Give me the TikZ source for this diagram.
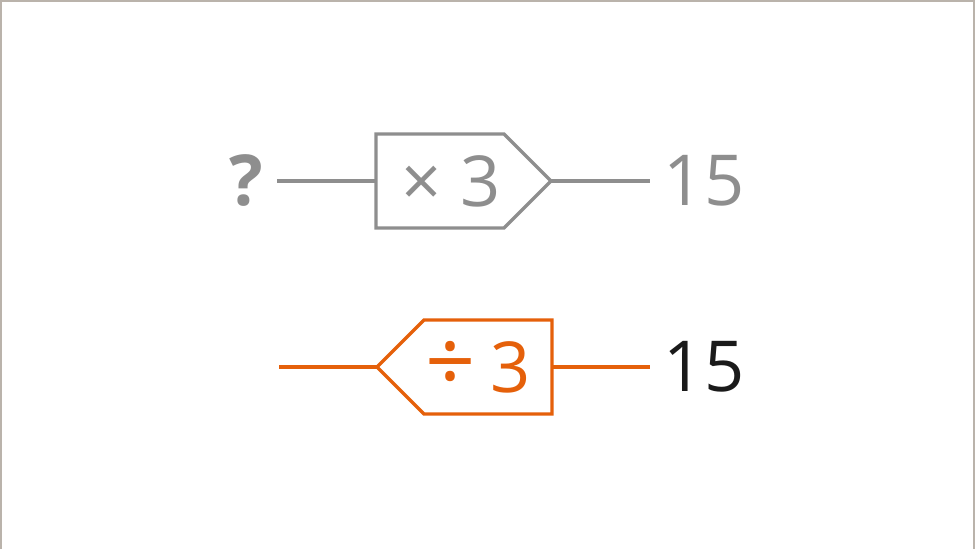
\documentclass[tikz,border=0pt]{standalone}
\usepackage{fontspec}
\setmainfont{Open Sans}
\usetikzlibrary{shapes.symbols,positioning}
\definecolor{opgrey}{HTML}{8E8E8E}
\definecolor{oporange}{HTML}{E5600A}
\definecolor{opblack}{HTML}{1A1A1A}
\definecolor{framegrey}{HTML}{BAB3AB}
\tikzset{
    numtext/.style={inner sep=0.27cm,font=\fontsize{40}{40}\selectfont},
    opbox/.style={shape=signal,signal pointer angle=90,draw,line width=0.065cm,
        minimum width=3.5cm,minimum height=1.88cm,inner sep=0,outer sep=0,
        font=\fontsize{40}{40}\selectfont},
    wire/.style={line width=0.065cm}
}

\begin{document}
\begin{tikzpicture}

    \def\yTop{7.36}
    \def\yBottom{3.64}
    \def\xQuery{4.93}
    \def\xBoxTop{8.80}
    \def\xBoxBottom{9.76}
    \def\xResult{14.08}
    \def\xStart{5.58}

    \useasboundingbox (0,0) rectangle (19.52,10.98);
    \draw[framegrey,line width=0.04cm] (0.02,0) -- (0.02,10.96) -- (19.48,10.96) -- (19.48,0);

    % forwards
    \node[numtext,opgrey,font=\fontsize{40}{40}\selectfont\bfseries]
        at (\xQuery,\yTop) (query) {?};
    \node[opbox,opgrey,signal to=east]
        at (\xBoxTop,\yTop) (times) {\kern0.44cm× 3};
    \node[numtext,opgrey]
        at (\xResult,\yTop) (result) {15};

    % inverse
    \coordinate (start) at (\xStart,\yBottom);
    \node[opbox,oporange,signal to=west]
        at (\xBoxBottom,\yBottom) (divide) {\scalebox{1.25}{÷}\kern-0.08cm{} 3\kern0.4cm};
    \node[numtext,opblack]
        at (\xResult,\yBottom) (given) {15};

    \draw[wire,opgrey] (query.east) -- (times.west);
    \draw[wire,opgrey] (times.east) -- (result.west);
    \draw[wire,oporange] (start) -- (divide.west);
    \draw[wire,oporange] (divide.east) -- (given.west);

\end{tikzpicture}
\end{document}
